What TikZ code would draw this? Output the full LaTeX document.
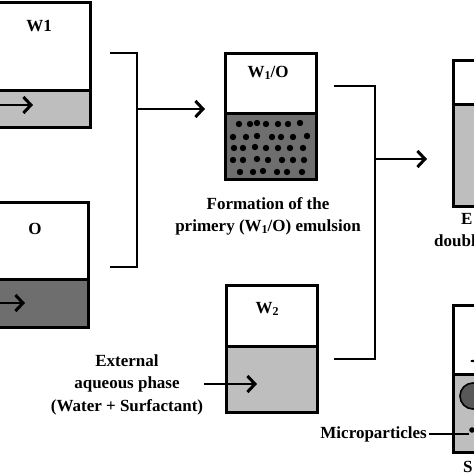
\documentclass[tikz,border=0pt]{standalone}
\usepackage{fontspec}
\setmainfont{Liberation Serif}
\usetikzlibrary{arrows.meta}
\newcommand{\mysub}[1]{\raisebox{-0.2ex}{\fontsize{12pt}{12pt}\selectfont #1}}
\definecolor{lightfill}{HTML}{BEBEBE}
\definecolor{darkfill}{HTML}{6E6E6E}
\tikzset{
  boxline/.style={line width=3pt, line join=miter},
  bracketline/.style={line width=2.8pt},
  arrowline/.style={line width=2.4pt, -{Straight Barb[length=7.5pt,width=16pt,line width=3pt]}},
  lbl/.style={inner sep=0pt, align=center, font=\bfseries\fontsize{17pt}{22.5pt}\selectfont},
  dot/.style={fill=black, draw=none},
}
\begin{document}
\begin{tikzpicture}[x=1pt,y=-1pt]
\useasboundingbox[fill=white] (0,0) rectangle (474,474);
% ---- W1 box
\fill[white] (-10,2) rectangle (90,90);
\fill[lightfill] (-10,90) rectangle (90,127);
\draw[boxline] (-10,2) rectangle (90,127);
\draw[boxline] (-10,90) -- (90,90);
\node[lbl] (w1) at (39,26) {W1};
\coordinate (w1s) at (-5,105);
\coordinate (w1e) at (33,105);
\draw[arrowline] (w1s) -- (w1e);
% ---- O box
\fill[white] (-10,202) rectangle (88,279);
\fill[darkfill] (-10,279) rectangle (88,327);
\draw[boxline] (-10,202) rectangle (88,327);
\draw[boxline] (-10,279) -- (88,279);
\node[lbl] (o) at (35,229) {O};
\coordinate (os) at (-5,303);
\coordinate (oe) at (25,303);
\draw[arrowline] (os) -- (oe);
% ---- bracket 1
\coordinate (b1t) at (110,53);
\coordinate (b1tr) at (137,53);
\coordinate (b1b) at (110,267);
\coordinate (b1br) at (137,267);
\coordinate (b1m) at (137,109);
\coordinate (b1a) at (205,109);
\draw[bracketline] (b1t) -- (b1tr) -- (b1br) -- (b1b);
\draw[arrowline] (b1m) -- (b1a);
% ---- W1/O box
\fill[white] (225,53) rectangle (316,113);
\fill[darkfill] (225,113) rectangle (316,179);
\foreach \x/\y in {239/124,250/124,257/123,266/124,278/124,288/124,300/123,
                   233/137,246/137,257/136,272/137,281/137,293/137,307/136,
                   234/148,243/148,255/147,266/148,278/148,290/148,303/148,
                   233/160,243/160,257/159,268/160,282/160,293/160,304/160,
                   240/172,253/172,263/171,277/172,287/172,302/172}
  \fill[dot] (\x,\y) circle (3.2pt);
\draw[boxline] (225,53) rectangle (316,179);
\draw[boxline] (225,113) -- (316,113);
\node[lbl] (w1o) at (268,73) {W\mysub{1}/O};
\node[lbl, anchor=north] (cap1) at (268,197) {Formation of the\\primery (W\mysub{1}/O) emulsion};
% ---- W2 box
\fill[white] (226,285) rectangle (317,346);
\fill[lightfill] (226,346) rectangle (317,412);
\draw[boxline] (226,285) rectangle (317,412);
\draw[boxline] (226,346) -- (317,346);
\node[lbl] (w2) at (267,309) {W\mysub{2}};
\node[lbl, anchor=north] (ext) at (127,354) {External\\aqueous phase\\(Water + Surfactant)};
\coordinate (w2s) at (204,384);
\coordinate (w2e) at (257,384);
\draw[arrowline] (w2s) -- (w2e);
% ---- bracket 2
\coordinate (b2t) at (334,86);
\coordinate (b2tr) at (375,86);
\coordinate (b2b) at (334,359);
\coordinate (b2br) at (375,359);
\coordinate (b2m) at (375,159);
\coordinate (b2a) at (427,159);
\draw[bracketline] (b2t) -- (b2tr) -- (b2br) -- (b2b);
\draw[arrowline] (b2m) -- (b2a);
% ---- right top box
\fill[white] (453,60) rectangle (490,104);
\fill[lightfill] (453,104) rectangle (490,206);
\draw[boxline] (453,60) rectangle (490,206);
\draw[boxline] (453,104) -- (490,104);
\node[lbl, anchor=north west] (cap2a) at (461,213) {E};
\node[lbl, anchor=north west] (cap2b) at (434,235) {double-};
% ---- right bottom box
\fill[white] (453,305) rectangle (490,374);
\fill[lightfill] (453,374) rectangle (490,452);
\fill[darkfill!80!black] (473,396) circle (13pt);
\draw[line width=1.6pt] (473,396) circle (13pt);
\fill[black] (473,361) ellipse (2.5pt and 1.2pt);
\fill[black] (472,430) circle (2.8pt);
\draw[boxline] (453,305) rectangle (490,452);
\draw[boxline] (453,374) -- (490,374);
\node[lbl, anchor=east] (micro) at (427,434) {Microparticles};
\coordinate (mend) at (469,434);
\draw[line width=2.4pt] (micro.east) ++(2,0) -- (mend);
\node[lbl, anchor=north west] (cap3) at (463,461) {S};
\end{tikzpicture}
\end{document}
